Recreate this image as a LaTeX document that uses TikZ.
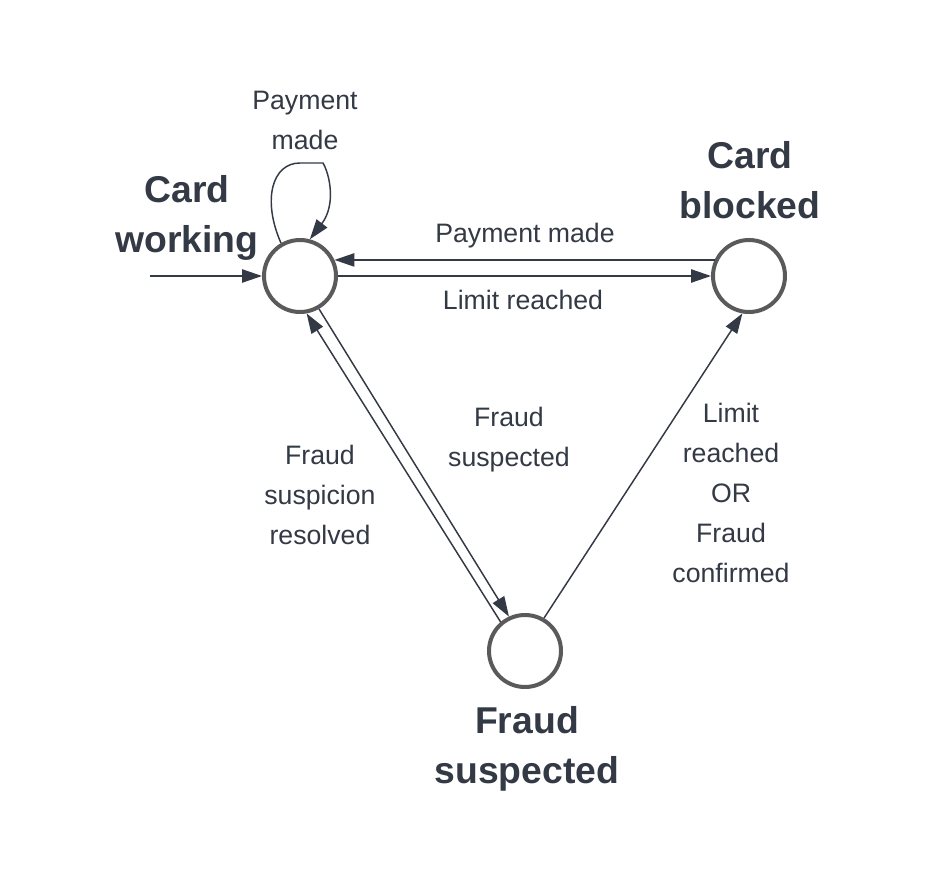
\documentclass[tikz,border=0pt]{standalone}
\usepackage{fontspec}
\setmainfont{Liberation Sans}
\usetikzlibrary{arrows.meta}
\definecolor{txt}{HTML}{333A45}
\definecolor{ring}{HTML}{5A5A5A}
\begin{document}
\begin{tikzpicture}[x=0.75pt,y=-0.75pt,
  st/.style={circle,draw=ring,line width=3pt,minimum size=54pt,inner sep=0pt},
  lbl/.style={text=txt,font=\fontsize{20}{30}\selectfont,align=center},
  ttl/.style={text=txt,font=\bfseries\fontsize{28}{37}\selectfont,align=center},
  ed/.style={draw=txt,line width=1.1pt,-{Triangle[length=15pt,width=10pt]}}]
\useasboundingbox[fill=white] (0,0) rectangle (936,881);
\node[st] (w) at (300,276) {};
\node[st] (b) at (749,276) {};
\node[st] (f) at (525,651) {};
\coordinate (start) at (150,276);
\draw[ed] (start) -- (w);
\draw[ed] (w.120) .. controls (262,200) and (272,163) .. (300,163) -- (323,163) .. controls (330,175) and (336,205) .. (w.75);
\draw[ed] (b.155) -- (w.25);
\draw[ed] (w.0) -- (b.180);
\draw[ed] (w.-60) -- (f.115);
\draw[ed] (f.130) -- (w.-80);
\draw[ed] (f.60) -- (b.-100);
\node[lbl] (l1) at (305,120) {Payment\\made};
\node[ttl] (t1) at (187,218) {Card\\working};
\node[ttl] (t2) at (750,180) {Card\\blocked};
\node[ttl] (t3) at (527,749) {Fraud\\suspected};
\node[lbl] (l2) at (525,236) {Payment made};
\node[lbl] (l3) at (523,300) {Limit reached};
\node[lbl] (l4) at (509,440) {Fraud\\suspected};
\node[lbl] (l5) at (320,495) {Fraud\\suspicion\\resolved};
\node[lbl] (l6) at (731,493) {Limit\\reached\\OR\\Fraud\\confirmed};
\end{tikzpicture}
\end{document}
